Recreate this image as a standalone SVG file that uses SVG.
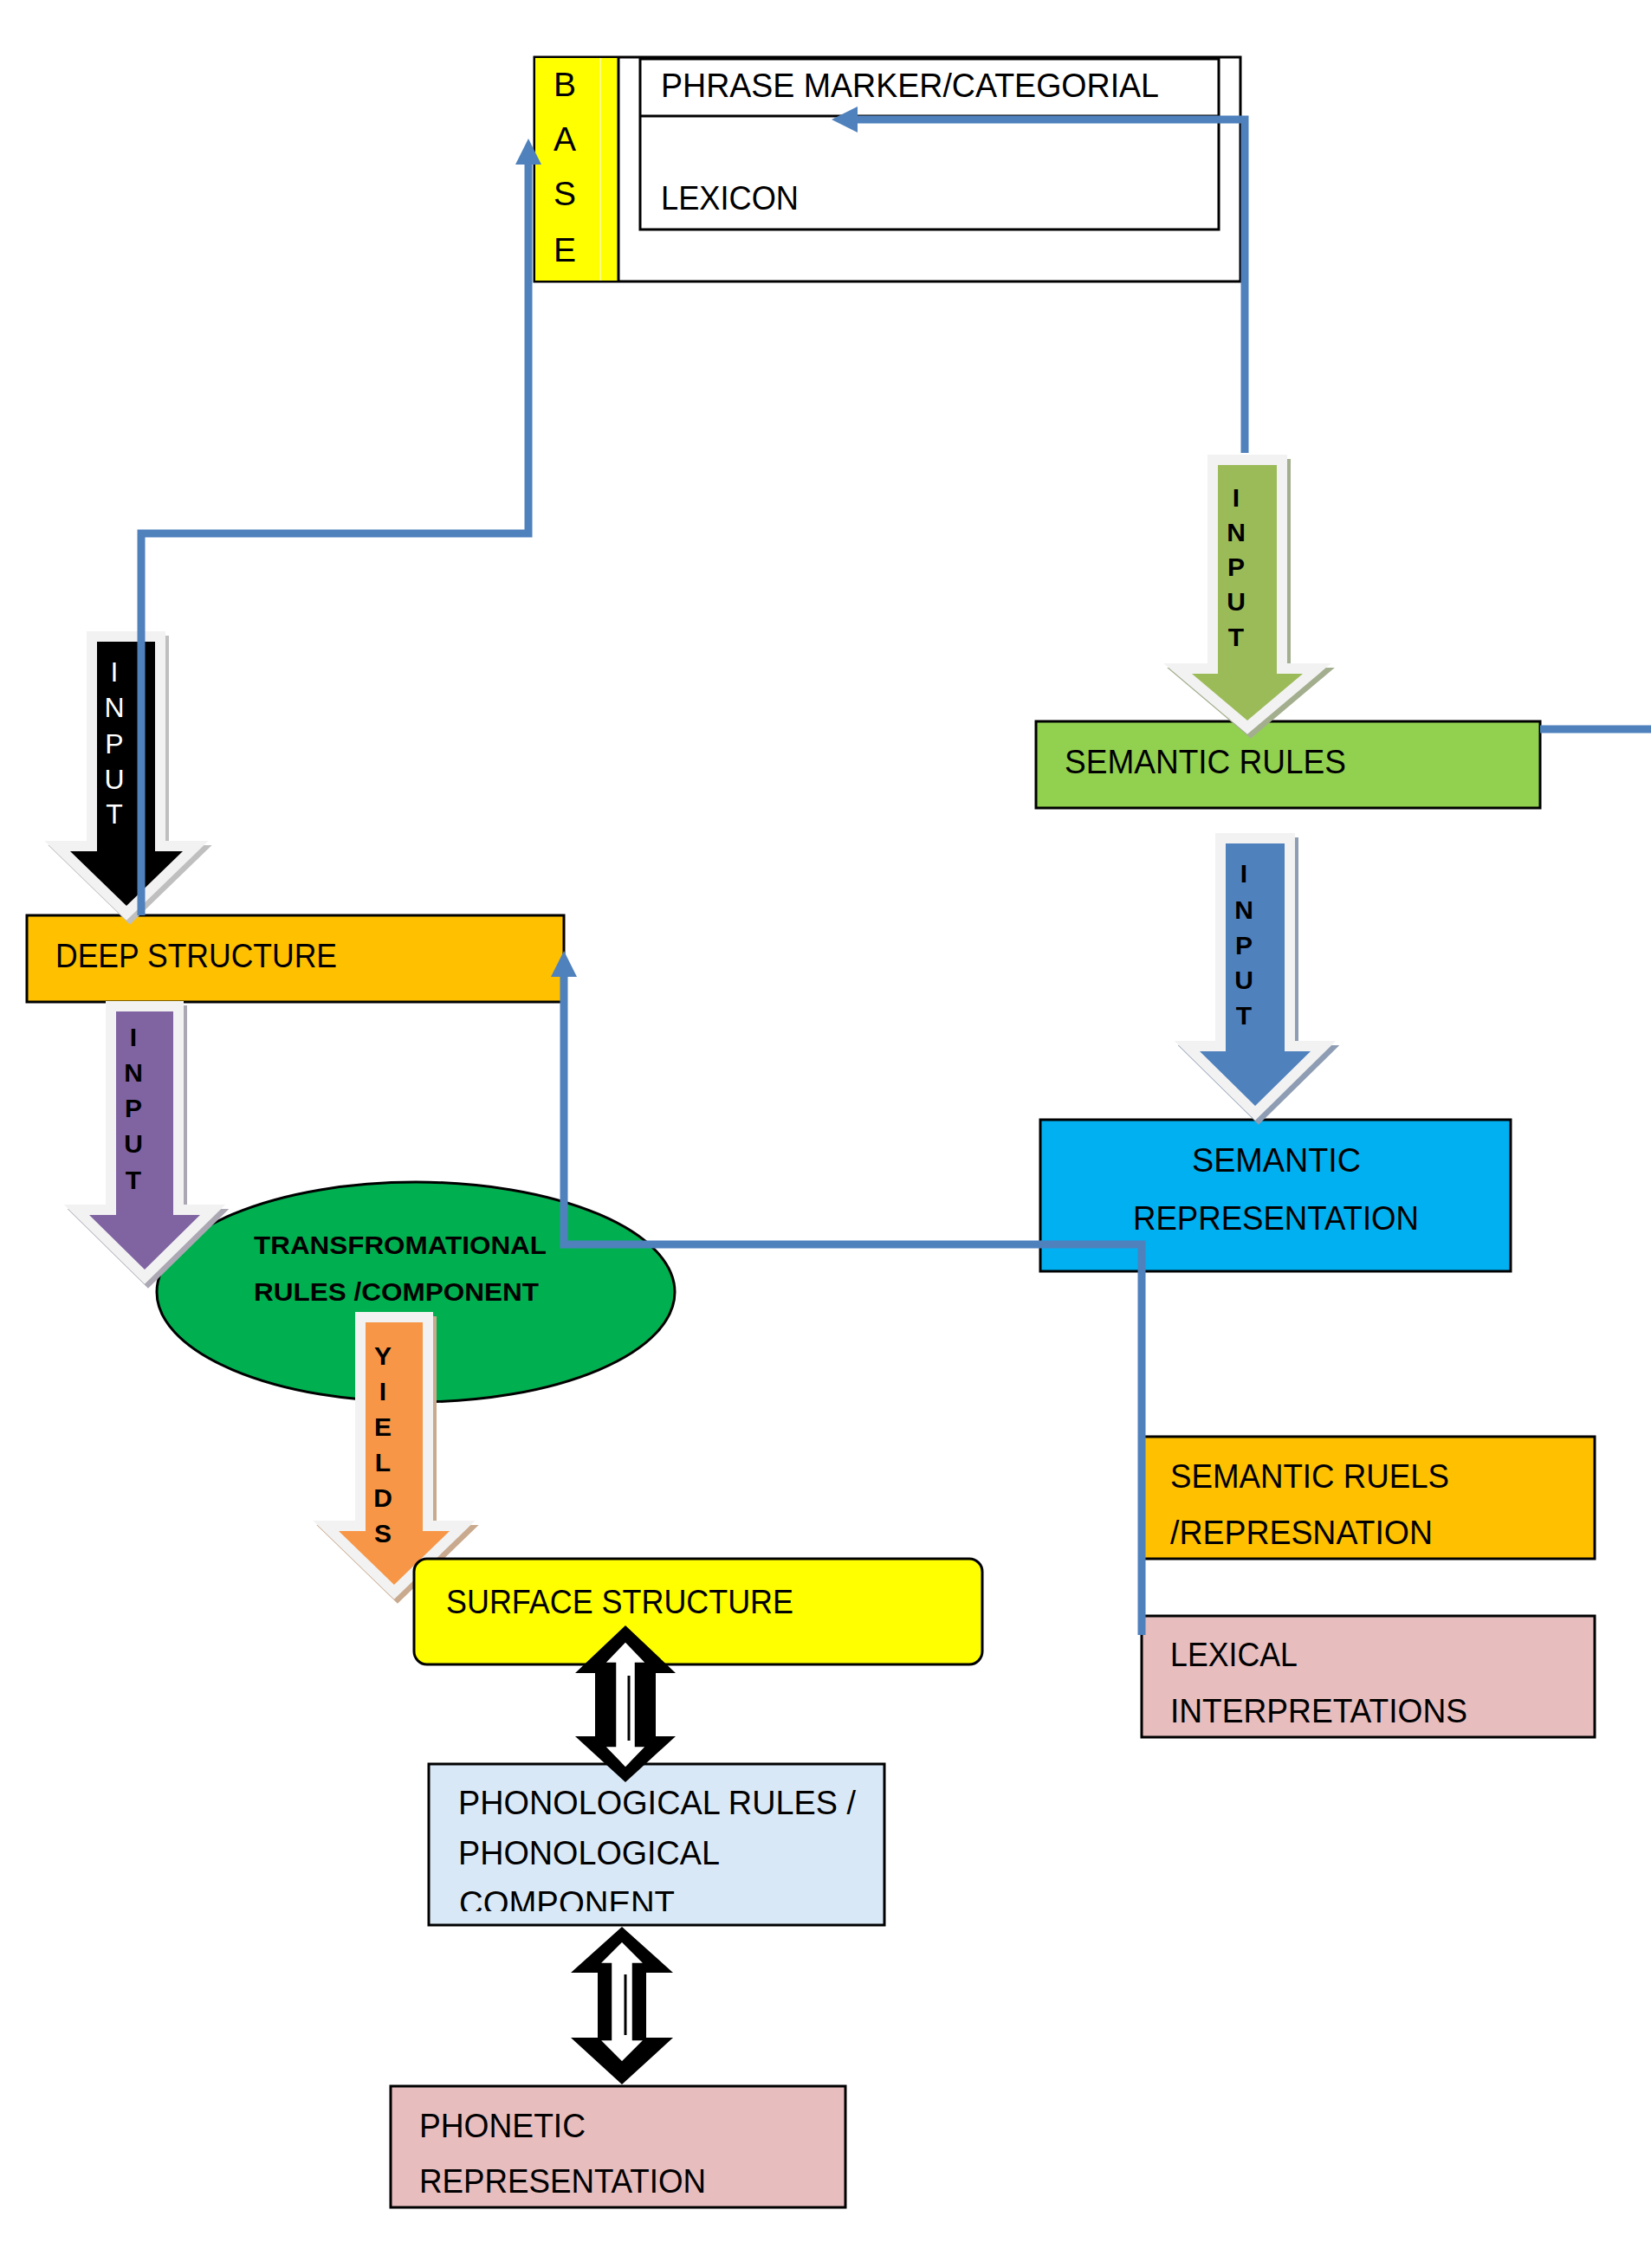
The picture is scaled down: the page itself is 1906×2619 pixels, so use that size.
<svg xmlns="http://www.w3.org/2000/svg" width="1906" height="2619" viewBox="0 0 1906 2619">
<defs>
<style>
.lbl{font-family:"Liberation Sans",Arial,sans-serif;font-size:39px;fill:#000}
.bold{font-family:"Liberation Sans",Arial,sans-serif;font-weight:bold;font-size:29px;fill:#000}
.vl{font-family:"Liberation Sans",Arial,sans-serif;font-weight:bold;font-size:30px;fill:#000;text-anchor:middle}
.vw{font-family:"Liberation Sans",Arial,sans-serif;font-size:32px;fill:#fff;text-anchor:middle}
.box{stroke:#000;stroke-width:3}
.conn{fill:none;stroke:#4F81BD;stroke-width:9;stroke-linejoin:miter}
.blk{stroke-width:24;stroke-linejoin:miter;stroke-miterlimit:6}
.outl{stroke:#F2F2F2;stroke-width:24;stroke-linejoin:miter;stroke-miterlimit:6;paint-order:stroke}
</style>
<marker id="ah" viewBox="0 0 30 30" refX="0" refY="15" markerWidth="30" markerHeight="30" markerUnits="userSpaceOnUse" orient="auto">
<path d="M0,0 L30,15 L0,30 Z" fill="#4F81BD"/>
</marker>
<clipPath id="phonclip"><rect x="494" y="2037" width="528" height="170"/></clipPath>
</defs>
<rect width="1906" height="2619" fill="#fff"/>

<g id="base">
<rect x="617" y="66" width="815" height="259" fill="#fff" class="box"/>
<rect x="618" y="67" width="96" height="257" fill="#FFFF00"/>
<line x1="693" y1="67" x2="693" y2="324" stroke="#FFFFB0" stroke-width="1.5"/>
<line x1="714" y1="66" x2="714" y2="325" stroke="#000" stroke-width="3"/>
<rect x="739" y="68" width="668" height="197" fill="#fff" class="box"/>
<line x1="739" y1="134" x2="1407" y2="134" stroke="#000" stroke-width="3"/>
<text class="lbl" text-anchor="middle"><tspan x="652" y="111">B</tspan><tspan x="652" y="174">A</tspan><tspan x="652" y="237">S</tspan><tspan x="652" y="302">E</tspan></text>
<text class="lbl" x="763" y="112" textLength="575" lengthAdjust="spacingAndGlyphs">PHRASE MARKER/CATEGORIAL</text>
<text class="lbl" x="763" y="242" textLength="159" lengthAdjust="spacingAndGlyphs">LEXICON</text>
</g>

<g id="semantic-rules">
<rect x="1196" y="833" width="582" height="100" fill="#92D050" class="box"/>
<text class="lbl" x="1229" y="893" textLength="325" lengthAdjust="spacingAndGlyphs">SEMANTIC RULES</text>
</g>

<g id="arrow-green-input">
<polygon transform="translate(4,5)" points="1406,537 1474,537 1474,778 1504,778 1440,832 1376,778 1406,778" fill="#A3AE8E" stroke="#A3AE8E" class="blk"/>
<polygon points="1406,537 1474,537 1474,778 1504,778 1440,832 1376,778 1406,778" fill="#9BBB59" class="outl"/>
<text class="vl"><tspan x="1427" y="585">I</tspan><tspan x="1427" y="625">N</tspan><tspan x="1427" y="665">P</tspan><tspan x="1427" y="705">U</tspan><tspan x="1427" y="746">T</tspan></text>
</g>

<g id="semantic-representation">
<rect x="1201" y="1293" width="543" height="175" fill="#00B0F0" class="box"/>
<text class="lbl" x="1376" y="1353" textLength="195" lengthAdjust="spacingAndGlyphs">SEMANTIC</text>
<text class="lbl" x="1308" y="1420" textLength="330" lengthAdjust="spacingAndGlyphs">REPRESENTATION</text>
</g>

<g id="arrow-blue-input">
<polygon transform="translate(4,5)" points="1415,974 1483,974 1483,1214 1513,1214 1449,1277 1385,1214 1415,1214" fill="#8E9DB3" stroke="#8E9DB3" class="blk"/>
<polygon points="1415,974 1483,974 1483,1214 1513,1214 1449,1277 1385,1214 1415,1214" fill="#4F81BD" class="outl"/>
<text class="vl"><tspan x="1436" y="1019">I</tspan><tspan x="1436" y="1061">N</tspan><tspan x="1436" y="1102">P</tspan><tspan x="1436" y="1142">U</tspan><tspan x="1436" y="1183">T</tspan></text>
</g>

<g id="deep-structure">
<rect x="31" y="1057" width="620" height="100" fill="#FFC000" class="box"/>
<text class="lbl" x="64" y="1117" textLength="325" lengthAdjust="spacingAndGlyphs">DEEP STRUCTURE</text>
</g>

<g id="arrow-black-input">
<polygon transform="translate(4,5)" points="112,741 179,741 179,983 211,983 146,1046 81,983 112,983" fill="#BFBFBF" stroke="#BFBFBF" class="blk"/>
<polygon points="112,741 179,741 179,983 211,983 146,1046 81,983 112,983" fill="#000" class="outl"/>
<text class="vw"><tspan x="132" y="787">I</tspan><tspan x="132" y="828">N</tspan><tspan x="132" y="870">P</tspan><tspan x="132" y="911">U</tspan><tspan x="132" y="951">T</tspan></text>
</g>

<g id="transformational">
<ellipse cx="480" cy="1492" rx="299" ry="127" fill="#00B050" stroke="#000" stroke-width="3"/>
<text class="bold" x="293" y="1448" textLength="338" lengthAdjust="spacingAndGlyphs">TRANSFROMATIONAL</text>
<text class="bold" x="293" y="1502" textLength="329" lengthAdjust="spacingAndGlyphs">RULES /COMPONENT</text>
</g>

<g id="arrow-purple-input">
<polygon transform="translate(4,5)" points="134,1168 200,1168 200,1403 231,1403 167,1466 103,1403 134,1403" fill="#ABA8B3" stroke="#ABA8B3" class="blk"/>
<polygon points="134,1168 200,1168 200,1403 231,1403 167,1466 103,1403 134,1403" fill="#8064A2" class="outl"/>
<text class="vl"><tspan x="154" y="1208">I</tspan><tspan x="154" y="1249">N</tspan><tspan x="154" y="1290">P</tspan><tspan x="154" y="1331">U</tspan><tspan x="154" y="1373">T</tspan></text>
</g>

<g id="arrow-orange-yields">
<polygon transform="translate(4,5)" points="422,1527 488,1527 488,1768 519,1768 455,1830 391,1768 422,1768" fill="#C9AA8E" stroke="#C9AA8E" class="blk"/>
<polygon points="422,1527 488,1527 488,1768 519,1768 455,1830 391,1768 422,1768" fill="#F79646" class="outl"/>
<text class="vl"><tspan x="442" y="1576">Y</tspan><tspan x="442" y="1617">I</tspan><tspan x="442" y="1658">E</tspan><tspan x="442" y="1699">L</tspan><tspan x="442" y="1740">D</tspan><tspan x="442" y="1781">S</tspan></text>
</g>

<g id="surface-structure">
<rect x="478" y="1800" width="656" height="122" rx="15" ry="15" fill="#FFFF00" class="box"/>
<text class="lbl" x="515" y="1863" textLength="401" lengthAdjust="spacingAndGlyphs">SURFACE STRUCTURE</text>
</g>

<g id="phonological">
<rect x="495" y="2037" width="526" height="186" fill="#D9E8F6" class="box"/>
<text class="lbl" x="529" y="2095" textLength="459" lengthAdjust="spacingAndGlyphs">PHONOLOGICAL RULES /</text>
<text class="lbl" x="529" y="2153" textLength="302" lengthAdjust="spacingAndGlyphs">PHONOLOGICAL</text>
<text class="lbl" x="530" y="2211" textLength="249" lengthAdjust="spacingAndGlyphs" clip-path="url(#phonclip)">COMPONENT</text>
</g>

<g id="phonetic">
<rect x="451" y="2409" width="525" height="140" fill="#E7BDBE" class="box"/>
<text class="lbl" x="484" y="2468" textLength="192" lengthAdjust="spacingAndGlyphs">PHONETIC</text>
<text class="lbl" x="484" y="2532" textLength="331" lengthAdjust="spacingAndGlyphs">REPRESENTATION</text>
</g>

<g id="semantic-ruels">
<rect x="1318" y="1659" width="523" height="141" fill="#FFC000" class="box"/>
<text class="lbl" x="1351" y="1718" textLength="322" lengthAdjust="spacingAndGlyphs">SEMANTIC RUELS</text>
<text class="lbl" x="1351" y="1783" textLength="303" lengthAdjust="spacingAndGlyphs">/REPRESNATION</text>
</g>

<g id="lexical-interpretations">
<rect x="1318" y="1866" width="523" height="140" fill="#E7BDBE" class="box"/>
<text class="lbl" x="1351" y="1924" textLength="147" lengthAdjust="spacingAndGlyphs">LEXICAL</text>
<text class="lbl" x="1351" y="1989" textLength="343" lengthAdjust="spacingAndGlyphs">INTERPRETATIONS</text>
</g>

<g id="double-arrow-1">
<polygon points="722,1877 780,1932 757,1932 757,2005 780,2005 722,2058 664,2005 687,2005 687,1932 664,1932" fill="#000"/>
<polygon points="722,1895 747,1921 734,1921 734,2016 747,2016 722,2042 697,2016 710,2016 710,1921 697,1921" fill="#fff" stroke="#000" stroke-width="2.5"/>
<line x1="726" y1="1935" x2="726" y2="2010" stroke="#000" stroke-width="3"/>
</g>

<g id="double-arrow-2">
<polygon points="718,2225 777,2278 746,2278 746,2353 777,2353 718,2407 659,2353 690,2353 690,2278 659,2278" fill="#000"/>
<polygon points="718,2241 745,2268 731,2268 731,2355 745,2355 718,2382 691,2355 705,2355 705,2268 691,2268" fill="#fff" stroke="#000" stroke-width="2.5"/>
<line x1="722" y1="2280" x2="722" y2="2350" stroke="#000" stroke-width="3"/>
</g>

<g id="connectors">
<path class="conn" d="M163,1057 V616 H610 V190" marker-end="url(#ah)"/>
<path class="conn" d="M1437,523 V138 H990" marker-end="url(#ah)"/>
<path class="conn" d="M1778,842 H1906"/>
<path class="conn" d="M1318,1888 V1437 H651 V1128" marker-end="url(#ah)"/>
</g>
</svg>
